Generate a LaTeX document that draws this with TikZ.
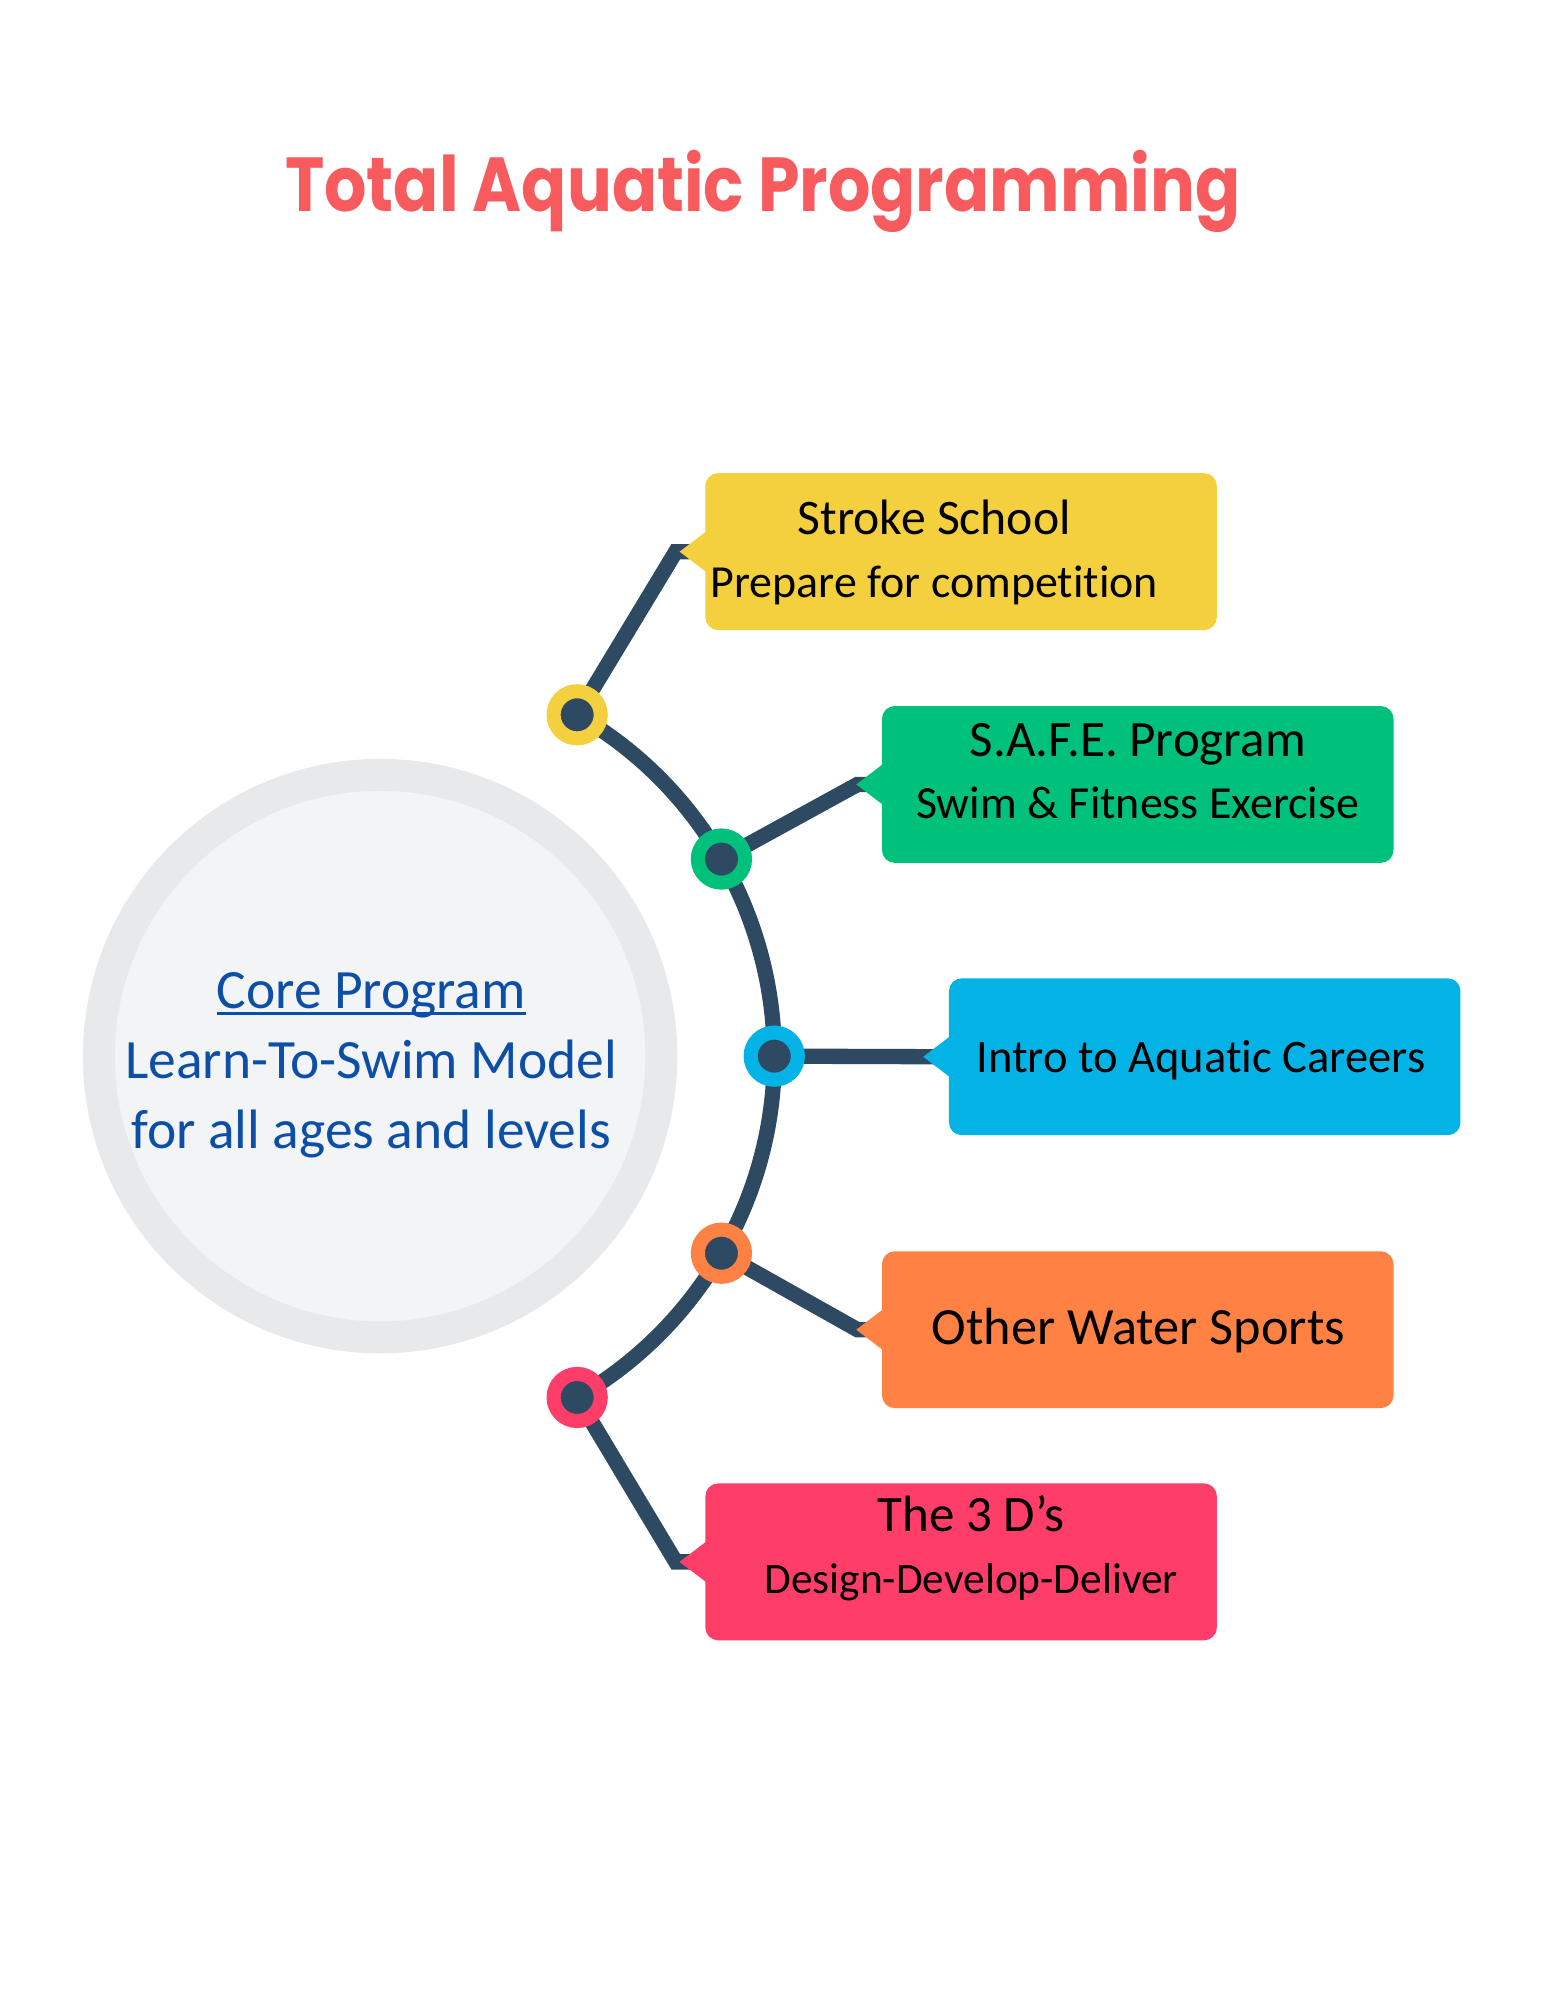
\documentclass[tikz,border=0pt]{standalone}
\usepackage{fontspec}
\setmainfont{Carlito}[Ligatures=NoCommon]
\newfontfamily\titlefont[FakeStretch=0.87]{Poppins}
\usetikzlibrary{calc,positioning}

\definecolor{titlered}{HTML}{F85B5E}
\definecolor{linedark}{HTML}{2E4A62}
\definecolor{boxyel}{HTML}{F4D03F}
\definecolor{boxgrn}{HTML}{00C17B}
\definecolor{boxblu}{HTML}{04B3E6}
\definecolor{boxorg}{HTML}{FF8244}
\definecolor{boxpnk}{HTML}{FE3E68}
\definecolor{ringgray}{HTML}{E8E9EB}
\definecolor{corefill}{HTML}{F2F4F6}
\definecolor{coreblue}{HTML}{0D4EA6}

\newcommand\coreline[1]{\setbox0\hbox{#1}\rlap{\rule[-0.12em]{\wd0}{0.055em}}\box0}

\pgfdeclarelayer{bg}
\pgfsetlayers{bg,main}

\begin{document}
\begin{tikzpicture}[x=1pt,y=-1pt,
	box/.style = {rectangle, rounded corners=10pt, minimum width=401pt, minimum height=123pt, fill=#1, inner sep=0pt},
	dot/.style = {circle, fill=linedark, draw=#1, line width=11pt, minimum size=37pt, inner sep=0pt},
	branch/.style = {draw=linedark, line width=12pt},
	boxtext/.style = {align=center, text=black, inner sep=0pt, font=\fontsize{36}{49}\selectfont},
]
\useasboundingbox (0,0) rectangle (1212,1568);

% title
\node[anchor=base, text=titlered, font=\titlefont\bfseries\fontsize{60}{70}\selectfont] (title) at (598,166) {Total Aquatic Programming};

% core circle
\coordinate (c) at (298,828);
\node[circle, fill=corefill, draw=ringgray, line width=25pt, minimum size=441pt, inner sep=0pt] (core) at (c) {};
\node[align=center, text=coreblue, font=\fontsize{43.5}{55}\selectfont] (core-t) at (291,835) {\coreline{Core Program}\\Learn-To-Swim Model\\for all ages and levels};

% dots on the arc
\foreach \a/\col/\n in {-60/boxyel/1,-30/boxgrn/2,0/boxblu/3,30/boxorg/4,60/boxpnk/5}
	\node[dot=\col] (d\n) at ($(c)+(\a:309)$) {};

% boxes
\node[box=boxyel] (ss) at (753.5,432.5) {};
\node[box=boxgrn] (safe) at (892,615) {};
\node[box=boxblu] (iac) at (944.5,828.5) {};
\node[box=boxorg] (ows) at (892,1042.5) {};
\node[box=boxpnk] (tdd) at (753.5,1224.5) {};

% pointers
\foreach \b/\col in {ss/boxyel,safe/boxgrn,iac/boxblu,ows/boxorg,tdd/boxpnk}
	\fill[\col] ($(\b.west)+(1,-16)$) -- ($(\b.west)+(-20,0)$) -- ($(\b.west)+(1,16)$) -- cycle;

% bends
\coordinate (k1) at ($(ss.west)+(-23,0)$);
\coordinate (k2) at ($(safe.west)+(-19,0)$);
\coordinate (k4) at ($(ows.west)+(-19,0)$);
\coordinate (k5) at ($(tdd.west)+(-23,0)$);

\begin{pgfonlayer}{bg}
\fill[white] (0,0) rectangle (1212,1568);
\draw[branch] (d1.center) arc[start angle=-60, end angle=60, radius=309];
\draw[branch] (d1.center) -- (k1) -- (ss.west);
\draw[branch] (d2.center) -- (k2) -- (safe.west);
\draw[branch] (d3.center) -- (iac.west);
\draw[branch] (d4.center) -- (k4) -- (ows.west);
\draw[branch] (d5.center) -- (k5) -- (tdd.west);
\end{pgfonlayer}

% texts
\node[boxtext] (ss-t) at ($(ss.center)+(-21,0.5)$) {{\fontsize{39}{49}\selectfont Stroke School}\\Prepare for competition};
\node[boxtext] (safe-t) at ($(safe.center)+(0,-10.5)$) {{\fontsize{40}{49}\selectfont S.A.F.E. Program}\\Swim \& Fitness Exercise};
\node[boxtext, font=\fontsize{36.5}{49}\selectfont] (iac-t) at ($(iac.center)+(-3,2.5)$) {Intro to Aquatic Careers};
\node[boxtext, font=\fontsize{41}{49}\selectfont] (ows-t) at ($(ows.center)+(0.5,1)$) {Other Water Sports};
\node[boxtext] (tdd-t) at ($(tdd.center)+(8,-10.5)$) {{\fontsize{40}{49}\selectfont The 3 D’s}\\\fontsize{34}{49}\selectfont Design-Develop-Deliver};

\end{tikzpicture}
\end{document}
